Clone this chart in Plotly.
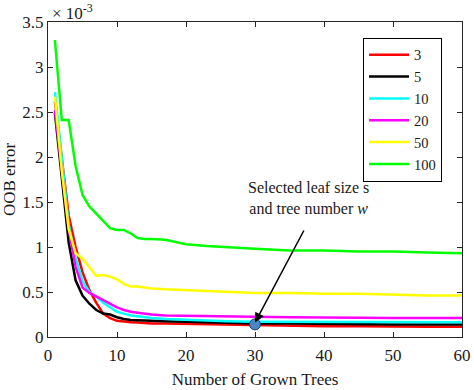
import plotly.graph_objects as go

# Number of grown trees
trees = [1, 2, 3, 4, 5, 6, 7, 8, 9, 10, 11, 12, 13, 14, 15, 17, 20, 23, 26, 30, 35, 40, 45, 50, 55, 60]

# OOB error (x 1e-3) for each leaf size
leaf_sizes = ["3", "5", "10", "20", "50", "100"]
err_3 = [2.62, 1.95, 1.35, 1.00, 0.72, 0.52, 0.38, 0.26, 0.21, 0.18, 0.17, 0.165, 0.16, 0.155, 0.15, 0.15,
         0.145, 0.14, 0.135, 0.13, 0.125, 0.12, 0.12, 0.115, 0.115, 0.115]
err_5 = [2.49, 1.80, 1.05, 0.63, 0.46, 0.37, 0.30, 0.26, 0.25, 0.22, 0.20, 0.19, 0.185, 0.18, 0.18, 0.175,
         0.17, 0.16, 0.155, 0.15, 0.15, 0.145, 0.145, 0.14, 0.14, 0.14]
err_10 = [2.72, 1.95, 1.25, 0.88, 0.62, 0.50, 0.45, 0.38, 0.33, 0.28, 0.26, 0.24, 0.23, 0.22, 0.21, 0.20,
          0.19, 0.18, 0.175, 0.17, 0.17, 0.17, 0.165, 0.165, 0.165, 0.165]
err_20 = [2.52, 1.85, 1.20, 0.78, 0.55, 0.49, 0.45, 0.41, 0.37, 0.33, 0.30, 0.28, 0.27, 0.26, 0.25, 0.24,
          0.235, 0.23, 0.225, 0.225, 0.22, 0.22, 0.215, 0.21, 0.21, 0.21]
err_50 = [2.67, 1.85, 1.20, 0.93, 0.87, 0.77, 0.68, 0.69, 0.67, 0.64, 0.59, 0.56, 0.56, 0.55, 0.54, 0.53,
          0.52, 0.51, 0.50, 0.49, 0.49, 0.48, 0.48, 0.47, 0.46, 0.46]
err_100 = [3.30, 2.41, 2.41, 1.90, 1.58, 1.45, 1.37, 1.29, 1.21, 1.19, 1.19, 1.15, 1.10, 1.09, 1.09, 1.08,
           1.03, 1.01, 1.00, 0.98, 0.96, 0.96, 0.95, 0.95, 0.94, 0.93]
series = [err_3, err_5, err_10, err_20, err_50, err_100]
colors = ["#ff0000", "#000000", "#00ffff", "#ff00ff", "#ffff00", "#00ff00"]

# Selected point
sel_trees = [30]
sel_err = [0.14]

y_ticks = [0, 0.5, 1, 1.5, 2, 2.5, 3, 3.5]
y_labels = ["0", "0.5", "1", "1.5", "2", "2.5", "3", "3.5"]
x_ticks = [0, 10, 20, 30, 40, 50, 60]

FONT = "Liberation Serif, Times New Roman, serif"

fig = go.Figure()
for name, vals, col in zip(leaf_sizes, series, colors):
    fig.add_trace(go.Scatter(x=trees, y=vals, mode="lines", name=name,
                             line=dict(color=col, width=2.5)))

fig.add_trace(go.Scatter(x=sel_trees, y=sel_err, mode="markers", showlegend=False,
                         marker=dict(size=11, color="#4a86c8", line=dict(color="#1f3f66", width=1))))

axis_common = dict(showline=True, linecolor="#262626", linewidth=1, mirror="ticks",
                   ticks="inside", ticklen=5, tickcolor="#262626", showgrid=False, zeroline=False,
                   automargin=False,
                   tickfont=dict(family=FONT, size=17, color="#1a1a1a"))

fig.update_xaxes(range=[0, 60], tickvals=x_ticks, ticklabelstandoff=3,
                 title=dict(text="Number of Grown Trees", font=dict(family=FONT, size=17, color="#1a1a1a"),
                            standoff=8),
                 **axis_common)
fig.update_yaxes(range=[0, 3.5], tickvals=y_ticks, ticktext=y_labels,
                 title=dict(text="OOB error", font=dict(family=FONT, size=17, color="#1a1a1a"), standoff=6),
                 **axis_common)

fig.add_annotation(x=30, y=0.16, ax=37.2, ay=1.2, xref="x", yref="y", axref="x", ayref="y",
                   text="", showarrow=True, arrowhead=2, arrowsize=1.3, arrowwidth=1.5, arrowcolor="#000000")
fig.add_annotation(x=37.8, y=1.54, xref="x", yref="y", showarrow=False,
                   text="Selected leaf size s<br>and tree number <i>w</i>",
                   font=dict(family=FONT, size=16, color="#1a1a1a"), align="center")
fig.add_annotation(x=0, y=1, xref="paper", yref="paper", xanchor="left", yanchor="bottom",
                   xshift=2, yshift=-3, showarrow=False, text="× 10<sup>-3</sup>",
                   font=dict(family=FONT, size=17, color="#1a1a1a"))

fig.update_layout(
    width=474, height=390,
    margin=dict(l=48, r=12, t=22, b=53),
    paper_bgcolor="white", plot_bgcolor="white",
    font=dict(family=FONT, size=16, color="#1a1a1a"),
    legend=dict(x=0.761, y=0.95, xanchor="left", yanchor="top", itemwidth=40,
                bgcolor="white", bordercolor="#000000", borderwidth=1,
                font=dict(family=FONT, size=14.5), tracegroupgap=0),
)

fig.write_html("out.html", config={"displayModeBar": False},
               post_script="document.body.style.margin='0';document.body.style.padding='0';")
